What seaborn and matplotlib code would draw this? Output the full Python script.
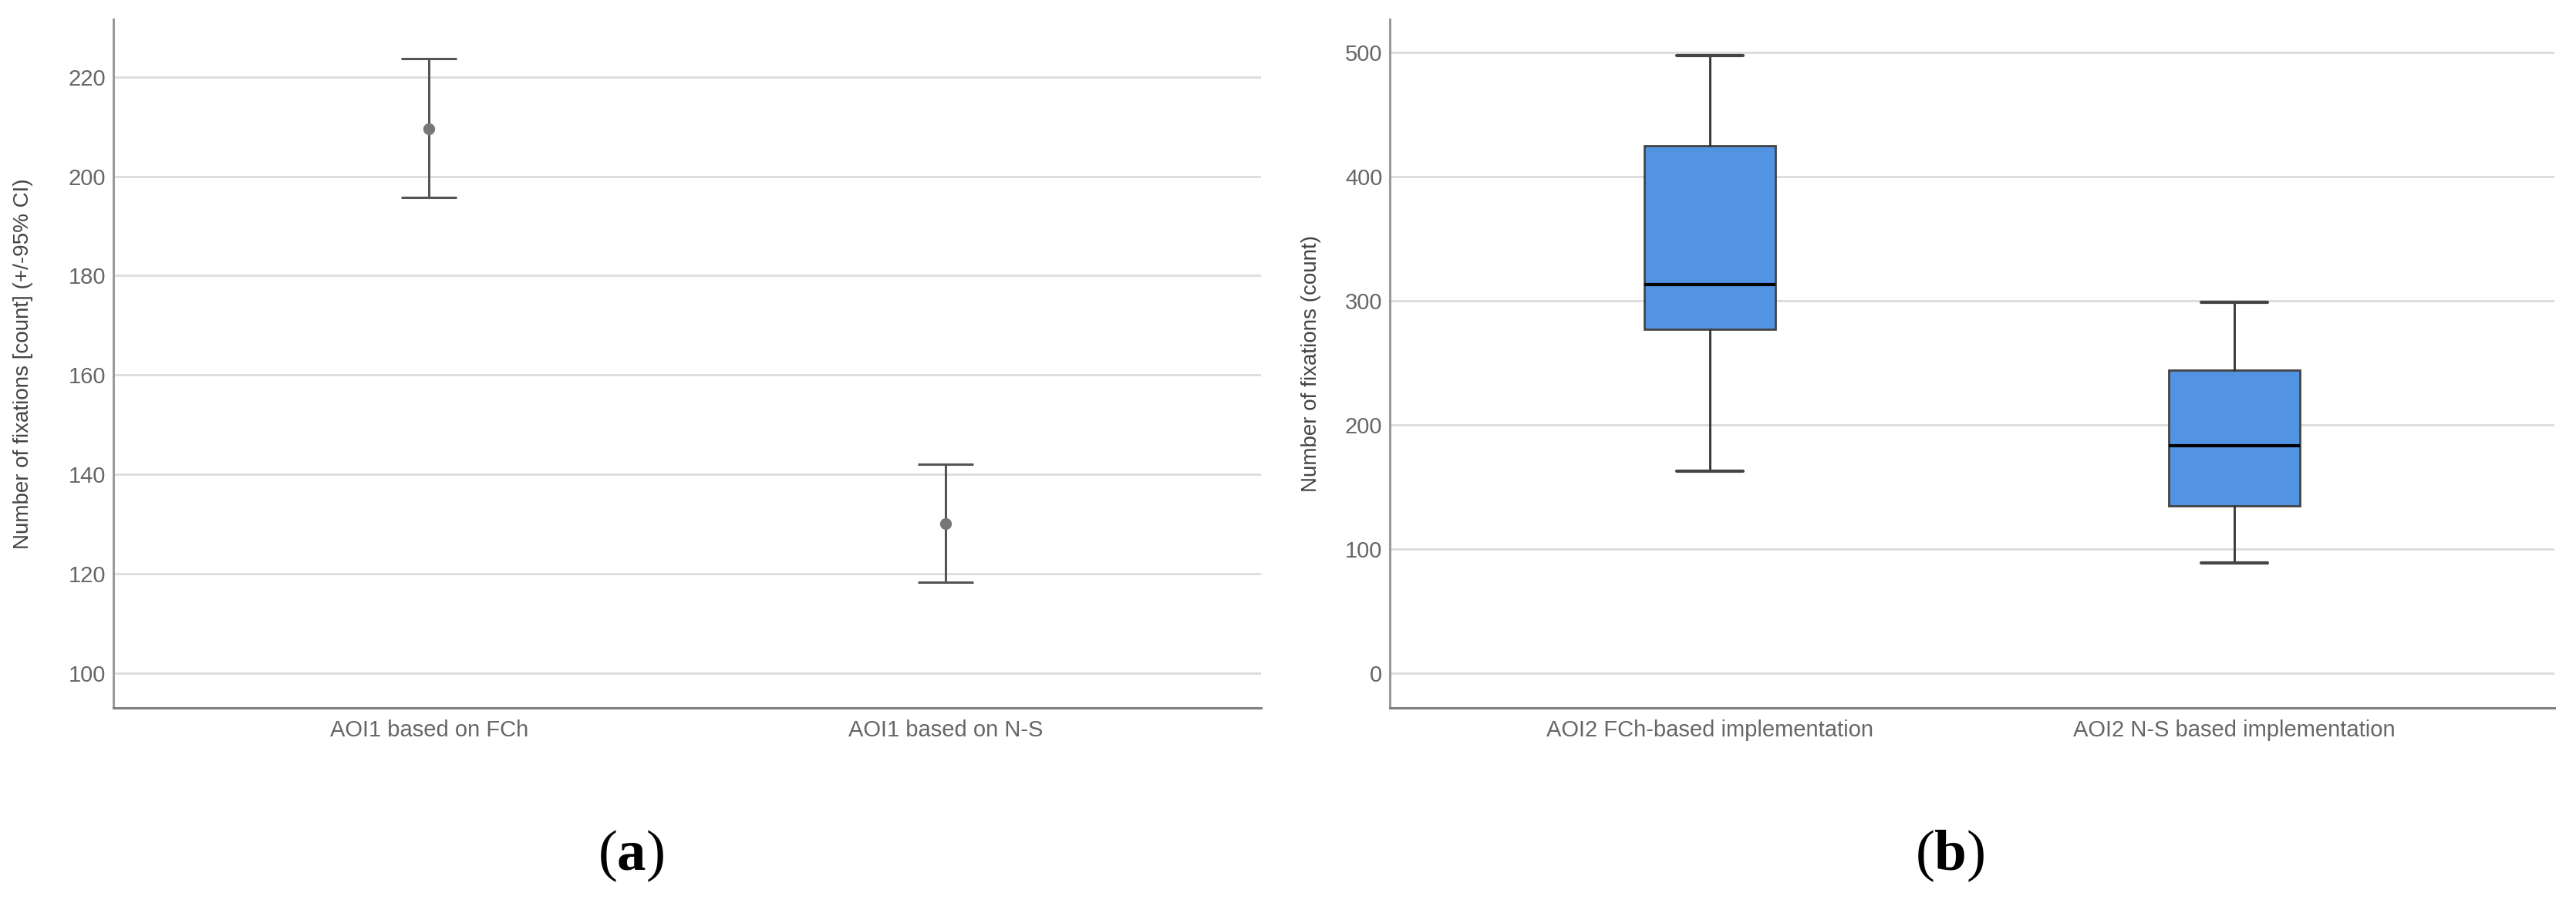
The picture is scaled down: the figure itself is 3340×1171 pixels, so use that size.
import matplotlib
matplotlib.use('Agg')
import matplotlib.pyplot as plt
import seaborn as sns
import pandas as pd

# Panel (a): means with 95% CI
groups_a = ['AOI1 based on FCh', 'AOI1 based on N-S']
means_a = [209.6, 130.1]
ci_low_a = [195.7, 118.3]
ci_high_a = [223.7, 142.1]

# Panel (b): box plot summary values
groups_b = ['AOI2 FCh-based implementation', 'AOI2 N-S based implementation']
whislo_b = [163, 89]
q1_b = [277, 135]
med_b = [313, 183]
q3_b = [425, 244]
whishi_b = [498, 299]

sns.set_theme(style='white')
plt.rcParams['font.family'] = ['Liberation Sans', 'DejaVu Sans']
plt.rcParams['mathtext.fontset'] = 'custom'
plt.rcParams['mathtext.bf'] = 'Liberation Serif:bold'
plt.rcParams['mathtext.rm'] = 'Liberation Serif'

W, H = 3340, 1171
fig = plt.figure(figsize=(W / 100, H / 100), dpi=100)
ax1 = fig.add_axes([147 / W, 1 - 918 / H, (1635 - 147) / W, (918 - 25) / H])
ax2 = fig.add_axes([1802 / W, 1 - 918 / H, (3312 - 1802) / W, (918 - 25) / H])

grid_c = '#dcdcdc'
tick_c = '#666666'
fs = 21

# --- (a) error bars
df_a = pd.DataFrame({'group': groups_a, 'mean': means_a})
ax1.errorbar(x=[0, 1], y=means_a,
             yerr=[[m - l for m, l in zip(means_a, ci_low_a)],
                   [h - m for m, h in zip(means_a, ci_high_a)]],
             fmt='none', ecolor='#555555', elinewidth=2.2, capsize=26,
             capthick=2.2, zorder=2)
sns.pointplot(data=df_a, x='group', y='mean', linestyle='none', color='#777777',
              markers='o', markersize=9, errorbar=None, ax=ax1, zorder=3)
ax1.set_ylim(93.0, 231.6)
ax1.set_yticks([100, 120, 140, 160, 180, 200, 220])
ax1.set_ylabel('Number of fixations [count] (+/-95% CI)', fontsize=20, color='#444444')
ax1.yaxis.set_label_coords(-0.0699, 0.5)

# --- (b) box plot
stats = []
for g, lo, a, m, b, hi in zip(groups_b, whislo_b, q1_b, med_b, q3_b, whishi_b):
    stats.append({'label': g, 'whislo': lo, 'q1': a, 'med': m, 'q3': b, 'whishi': hi})
ax2.bxp(stats, positions=[0, 1], widths=0.25, capwidths=0.126, patch_artist=True,
        showfliers=False,
        boxprops=dict(facecolor='#5294e2', edgecolor='#444444', linewidth=2),
        medianprops=dict(color='black', linewidth=3),
        whiskerprops=dict(color='#333333', linewidth=2),
        capprops=dict(color='#444444', linewidth=3))
ax2.set_ylim(-28, 527)
ax2.set_yticks([0, 100, 200, 300, 400, 500])
ax2.set_ylabel('Number of fixations (count)', fontsize=20, color='#444444')
ax2.yaxis.set_label_coords(-0.0589, 0.5)

for ax, labels in ((ax1, groups_a), (ax2, groups_b)):
    ax.set_xticks([0, 1])
    ax.set_xticklabels(labels)
    ax.set_xlim(-0.611, 1.611)
    ax.set_xlabel('')
    ax.yaxis.grid(True, color=grid_c, linewidth=2)
    ax.xaxis.grid(False)
    ax.set_axisbelow(True)
    ax.tick_params(axis='both', length=0, labelsize=fs, labelcolor=tick_c)
    ax.tick_params(axis='y', pad=7)
    ax.tick_params(axis='x', pad=11)
    for s in ('top', 'right'):
        ax.spines[s].set_visible(False)
    ax.spines['left'].set_color('#9a9a9a')
    ax.spines['bottom'].set_color('#808080')
    ax.spines['left'].set_linewidth(2.2)
    ax.spines['bottom'].set_linewidth(2.2)

fig.text(0.245, 0.052, r'($\mathbf{a}$)', ha='center', va='center',
         fontsize=54, family='Liberation Serif', color='black')
fig.text(0.757, 0.052, r'($\mathbf{b}$)', ha='center', va='center',
         fontsize=54, family='Liberation Serif', color='black')

fig.savefig('out.png', dpi=100, facecolor='white')
